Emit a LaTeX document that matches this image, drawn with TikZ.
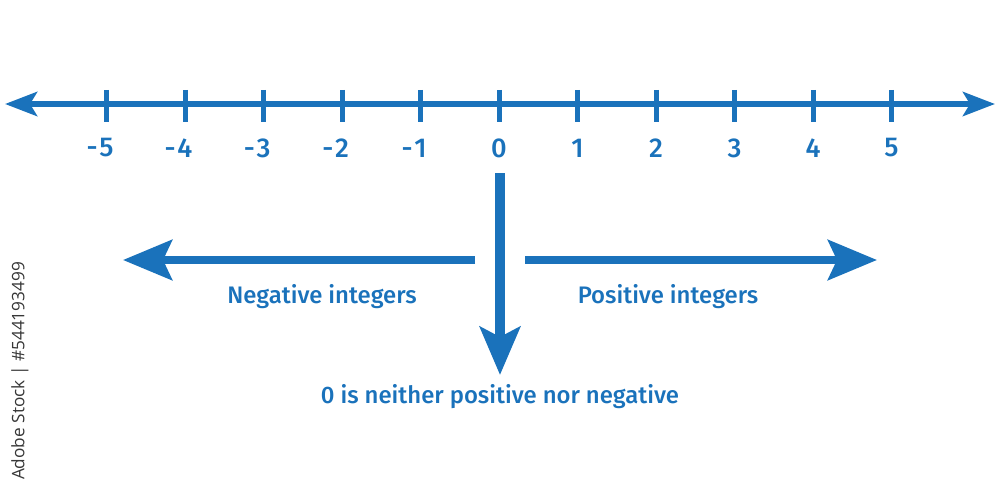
\documentclass[tikz,border=0pt]{standalone}
\usepackage{fontspec}
\setmainfont{Fira Sans}[BoldFont=* Medium]
\newfontfamily\markfont{Open Sans}
\usetikzlibrary{arrows.meta}
\definecolor{lineblue}{RGB}{26,114,187}
\definecolor{markgray}{RGB}{55,55,55}

\begin{document}
\begin{tikzpicture}[x=0.02cm, y=-0.02cm, >=Stealth,
    axisline/.style={lineblue, line width=0.12cm,
        {Stealth[length=0.64cm, width=0.48cm, inset=0.14cm]}-{Stealth[length=0.64cm, width=0.48cm, inset=0.14cm]}},
    tickmark/.style={lineblue, line width=0.1cm},
    bigarrow/.style={lineblue, line width=0.16cm, -{Stealth[length=0.98cm, width=0.8cm, inset=0.18cm]}},
    downarrow/.style={lineblue, line width=0.2cm, -{Stealth[length=0.96cm, width=0.8cm, inset=0.2cm]}},
    numlabel/.style={text=lineblue, inner sep=0pt, font=\fontsize{15.5}{18}\selectfont\bfseries},
    textlabel/.style={text=lineblue, inner sep=0pt, font=\fontsize{13.6}{17}\selectfont\bfseries}]
    \useasboundingbox (0,0) rectangle (1000,500);
    % number line
    \coordinate (axL) at (5,104);
    \coordinate (axR) at (995,104);
    \draw[axisline] (axL) -- (axR);
    \foreach \n in {-5,...,5} {
        \coordinate (top\n) at ({499+78.5*\n},90);
        \coordinate (bot\n) at ({499+78.5*\n},122);
        \draw[tickmark] (top\n) -- (bot\n);
        \ifnum\n<0
            \node[numlabel] (num\n) at ({499+78.5*\n},148) {\makebox[0pt][r]{-\kern1pt}\the\numexpr-\n\relax};
        \else
            \node[numlabel] (num\n) at ({499+78.5*\n},148) {\n};
        \fi
    }
    % arrows below zero
    \coordinate (zeroTop) at (500,173);
    \coordinate (zeroTip) at (500,375);
    \coordinate (negStart) at (475,260);
    \coordinate (negTip) at (123,260);
    \coordinate (posStart) at (525,260);
    \coordinate (posTip) at (877,260);
    \draw[downarrow] (zeroTop) -- (zeroTip);
    \draw[bigarrow] (negStart) -- (negTip);
    \draw[bigarrow] (posStart) -- (posTip);
    \node[textlabel] (negText) at (322,297) {Negative integers};
    \node[textlabel] (posText) at (668,297) {Positive integers};
    \node[textlabel] (zeroText) at (500,397) {0 is neither positive nor negative};
    \node[text=markgray, rotate=90, inner sep=0pt, font=\markfont\fontsize{9.8}{12}\selectfont] (stock) at (20,371) {Adobe Stock | \#544193499};
\end{tikzpicture}
\end{document}
